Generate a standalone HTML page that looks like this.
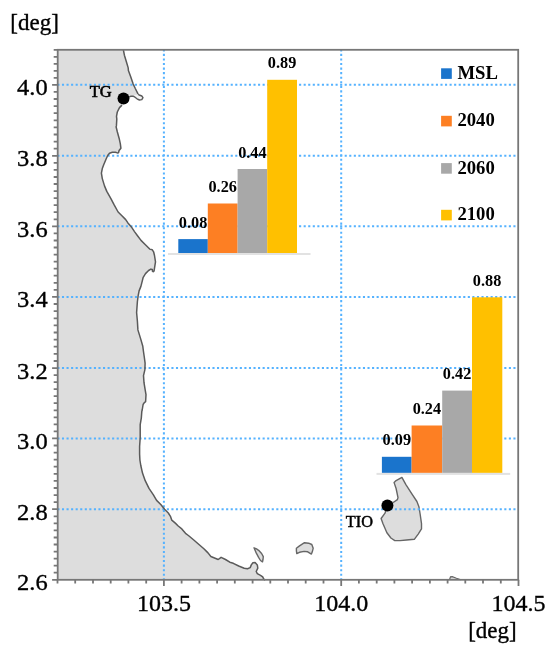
<!DOCTYPE html><html><head><meta charset="utf-8"><style>html,body{margin:0;padding:0;background:#fff;width:550px;height:652px;overflow:hidden}svg{display:block}text{font-family:"Liberation Serif",serif}.r{stroke:#000;stroke-width:0.35px}</style></head><body>
<svg width="550" height="652" viewBox="0 0 550 652">
<polygon points="57.7,49.8 123.3,49.5 124.4,55.2 126.3,61.5 128.2,67.9 128.4,70.5 130.7,76.8 133.0,83.6 135.3,88.5 137.6,93.1 138.0,94.3 136.5,95.3 133.0,96.2 131.0,96.2 123.5,98.5 122.0,105.1 119.5,107.6 117.3,112.0 116.5,116.4 116.8,119.1 116.4,125.9 116.1,126.8 117.3,131.8 119.1,138.2 120.3,143.6 120.9,148.2 119.1,150.5 118.5,152.7 117.3,152.9 115.5,152.3 112.3,152.3 109.5,153.2 107.7,155.5 105.9,159.5 103.6,165.0 102.3,168.6 101.4,173.2 102.3,178.6 104.5,185.9 106.8,191.4 110.9,198.6 113.9,204.4 118.1,212.0 121.4,215.3 125.7,219.6 127.9,222.9 131.2,226.7 134.5,231.6 137.7,236.0 141.0,240.4 145.4,244.7 149.7,249.1 152.3,249.8 153.6,251.8 154.5,255.5 155.5,261.8 154.5,268.2 154.1,270.9 153.2,271.8 152.3,270.9 152.3,269.5 150.9,269.1 148.6,270.5 145.5,273.6 143.2,277.3 142.3,280.9 140.9,286.4 139.1,290.9 138.2,295.5 137.4,301.5 136.6,312.5 137.4,321.2 137.9,329.9 140.6,338.6 142.8,346.3 143.4,351.0 144.2,356.5 145.1,363.1 144.9,369.6 143.5,375.6 144.0,382.7 145.1,389.3 146.0,394.7 145.6,401.8 144.5,402.4 143.1,404.5 142.2,410.0 141.8,411.5 141.3,418.1 140.2,424.6 140.2,437.7 139.6,446.5 139.6,454.1 139.9,460.0 140.8,465.5 142.5,473.1 145.2,480.7 149.0,488.4 153.4,494.9 156.6,500.4 161.0,504.7 164.6,509.3 168.3,513.0 170.6,516.7 171.8,520.2 175.3,523.1 178.2,526.0 181.8,528.9 185.5,533.3 188.4,535.5 193.5,539.8 197.8,543.5 203.6,548.5 208.0,552.9 210.9,556.5 214.5,558.0 218.2,559.5 221.1,557.3 225.5,559.5 229.8,562.2 233.3,563.3 238.7,566.0 244.2,568.2 247.5,568.7 250.2,567.6 251.3,564.9 252.9,562.7 255.1,562.5 257.3,564.9 257.8,568.2 256.2,571.5 257.3,573.6 260.5,575.3 262.7,576.9 263.8,579.1 265.2,580.2 57.7,579.8" fill="#dddddd"/>
<polygon points="254.0,547.8 256.5,548.9 258.6,550.3 261.6,553.5 263.3,556.7 263.0,559.5 262.5,561.9 260.5,560.5 258.6,557.3 256.2,552.9" fill="#dddddd" stroke="#666" stroke-width="1.4" stroke-linejoin="round"/>
<polygon points="296.4,548.2 299.5,545.9 304.5,542.7 308.6,543.2 311.8,544.5 313.2,548.2 312.3,551.8 311.4,554.1 307.7,551.8 304.1,551.4 299.5,552.3 296.8,553.6 296.4,550.9" fill="#dddddd" stroke="#666" stroke-width="1.4" stroke-linejoin="round"/>
<polygon points="401.9,477.4 405.9,484.6 411.7,493.7 416.9,501.5 418.9,506.7 420.2,514.5 421.5,523.7 421.5,528.9 418.2,534.1 414.3,539.3 406.5,540.0 400.0,540.6 394.8,540.6 390.9,538.0 386.9,532.8 383.0,523.7 381.1,518.5 385.0,513.2 387.3,505.7 392.8,502.8 397.4,499.6 398.0,497.6 396.1,488.5 394.1,482.6 396.1,480.6" fill="#dddddd" stroke="#666" stroke-width="1.4" stroke-linejoin="round"/>
<polyline points="449.5,579.8 450.5,576.8 452.3,576.6 456.4,578.2 460.9,579.8" fill="#dddddd" stroke="#666" stroke-width="1.2"/>
<line x1="57.4" y1="84.8" x2="518.2" y2="84.8" stroke="#55b2ff" stroke-width="2" stroke-dasharray="2.1 2.46"/>
<line x1="57.4" y1="155.8" x2="518.2" y2="155.8" stroke="#55b2ff" stroke-width="2" stroke-dasharray="2.1 2.46"/>
<line x1="57.4" y1="226.3" x2="518.2" y2="226.3" stroke="#55b2ff" stroke-width="2" stroke-dasharray="2.1 2.46"/>
<line x1="57.4" y1="296.9" x2="518.2" y2="296.9" stroke="#55b2ff" stroke-width="2" stroke-dasharray="2.1 2.46"/>
<line x1="57.4" y1="368.1" x2="518.2" y2="368.1" stroke="#55b2ff" stroke-width="2" stroke-dasharray="2.1 2.46"/>
<line x1="57.4" y1="438.4" x2="518.2" y2="438.4" stroke="#55b2ff" stroke-width="2" stroke-dasharray="2.1 2.46"/>
<line x1="57.4" y1="509.2" x2="518.2" y2="509.2" stroke="#55b2ff" stroke-width="2" stroke-dasharray="2.1 2.46"/>
<line x1="163.9" y1="49.3" x2="163.9" y2="579.8" stroke="#55b2ff" stroke-width="2" stroke-dasharray="2.1 2.46"/>
<line x1="341.2" y1="49.3" x2="341.2" y2="579.8" stroke="#55b2ff" stroke-width="2" stroke-dasharray="2.1 2.46"/>
<polyline points="123.3,49.5 124.4,55.2 126.3,61.5 128.2,67.9 128.4,70.5 130.7,76.8 133.0,83.6 135.3,88.5 137.6,93.1 138.0,94.3" fill="none" stroke="#5a5a5a" stroke-width="1.5" stroke-linejoin="round"/>
<polyline points="138.0,94.3 139.2,95.0 141.8,96.0 143.0,97.6 141.8,99.6 139.4,100.0 137.0,98.8 135.0,97.2 133.0,96.2 131.0,96.2 129.0,97.2" fill="#f4f4f4" stroke="#5a5a5a" stroke-width="1.4" stroke-linejoin="round"/>
<polyline points="122.0,105.1 119.5,107.6 117.3,112.0 116.5,116.4 116.8,119.1 116.4,125.9 116.1,126.8 117.3,131.8 119.1,138.2 120.3,143.6 120.9,148.2 119.1,150.5 118.5,152.7 117.3,152.9 115.5,152.3 112.3,152.3 109.5,153.2 107.7,155.5 105.9,159.5 103.6,165.0 102.3,168.6 101.4,173.2 102.3,178.6 104.5,185.9 106.8,191.4 110.9,198.6 113.9,204.4 118.1,212.0 121.4,215.3 125.7,219.6 127.9,222.9 131.2,226.7 134.5,231.6 137.7,236.0 141.0,240.4 145.4,244.7 149.7,249.1 152.3,249.8 153.6,251.8 154.5,255.5 155.5,261.8 154.5,268.2 154.1,270.9 153.2,271.8 152.3,270.9 152.3,269.5 150.9,269.1 148.6,270.5 145.5,273.6 143.2,277.3 142.3,280.9 140.9,286.4 139.1,290.9 138.2,295.5 137.4,301.5 136.6,312.5 137.4,321.2 137.9,329.9 140.6,338.6 142.8,346.3 143.4,351.0 144.2,356.5 145.1,363.1 144.9,369.6 143.5,375.6 144.0,382.7 145.1,389.3 146.0,394.7 145.6,401.8 144.5,402.4 143.1,404.5 142.2,410.0 141.8,411.5 141.3,418.1 140.2,424.6 140.2,437.7 139.6,446.5 139.6,454.1 139.9,460.0 140.8,465.5 142.5,473.1 145.2,480.7 149.0,488.4 153.4,494.9 156.6,500.4 161.0,504.7 164.6,509.3 168.3,513.0 170.6,516.7 171.8,520.2 175.3,523.1 178.2,526.0 181.8,528.9 185.5,533.3 188.4,535.5 193.5,539.8 197.8,543.5 203.6,548.5 208.0,552.9 210.9,556.5 214.5,558.0 218.2,559.5 221.1,557.3 225.5,559.5 229.8,562.2 233.3,563.3 238.7,566.0 244.2,568.2 247.5,568.7 250.2,567.6 251.3,564.9 252.9,562.7 255.1,562.5 257.3,564.9 257.8,568.2 256.2,571.5 257.3,573.6 260.5,575.3 262.7,576.9 263.8,579.1 265.2,580.2" fill="none" stroke="#5a5a5a" stroke-width="1.5" stroke-linejoin="round"/>
<rect x="57.7" y="49.8" width="460.5" height="530.0" fill="none" stroke="#777" stroke-width="1.8"/>
<path d="M52.1 579.8H57.7M53.7 572.7H57.7M53.7 565.7H57.7M53.7 558.6H57.7M53.7 551.6H57.7M53.7 544.5H57.7M53.7 537.5H57.7M53.7 530.4H57.7M53.7 523.4H57.7M53.7 516.3H57.7M52.1 509.2H57.7M53.7 502.2H57.7M53.7 495.1H57.7M53.7 488.0H57.7M53.7 480.9H57.7M53.7 473.8H57.7M53.7 466.7H57.7M53.7 459.7H57.7M53.7 452.6H57.7M53.7 445.5H57.7M52.1 438.4H57.7M53.7 431.4H57.7M53.7 424.3H57.7M53.7 417.3H57.7M53.7 410.3H57.7M53.7 403.2H57.7M53.7 396.2H57.7M53.7 389.2H57.7M53.7 382.2H57.7M53.7 375.1H57.7M52.1 368.1H57.7M53.7 361.0H57.7M53.7 353.9H57.7M53.7 346.7H57.7M53.7 339.6H57.7M53.7 332.5H57.7M53.7 325.4H57.7M53.7 318.3H57.7M53.7 311.1H57.7M53.7 304.0H57.7M52.1 296.9H57.7M53.7 289.8H57.7M53.7 282.8H57.7M53.7 275.7H57.7M53.7 268.7H57.7M53.7 261.6H57.7M53.7 254.6H57.7M53.7 247.5H57.7M53.7 240.5H57.7M53.7 233.4H57.7M52.1 226.3H57.7M53.7 219.3H57.7M53.7 212.2H57.7M53.7 205.2H57.7M53.7 198.1H57.7M53.7 191.1H57.7M53.7 184.0H57.7M53.7 177.0H57.7M53.7 169.9H57.7M53.7 162.9H57.7M52.1 155.8H57.7M53.7 148.7H57.7M53.7 141.6H57.7M53.7 134.5H57.7M53.7 127.4H57.7M53.7 120.3H57.7M53.7 113.2H57.7M53.7 106.1H57.7M53.7 99.0H57.7M53.7 91.9H57.7M52.1 84.8H57.7M53.7 77.9H57.7M53.7 70.9H57.7M53.7 63.9H57.7M53.7 56.9H57.7M53.7 49.9H57.7M57.5 579.8V583.6M75.2 579.8V583.6M93.0 579.8V583.6M110.7 579.8V583.6M128.4 579.8V583.6M146.2 579.8V583.6M163.9 579.8V586.0M181.6 579.8V583.6M199.4 579.8V583.6M217.1 579.8V583.6M234.8 579.8V583.6M252.6 579.8V583.6M270.3 579.8V583.6M288.0 579.8V583.6M305.7 579.8V583.6M323.5 579.8V583.6M341.2 579.8V586.0M358.9 579.8V583.6M376.7 579.8V583.6M394.4 579.8V583.6M412.1 579.8V583.6M429.9 579.8V583.6M447.6 579.8V583.6M465.3 579.8V583.6M483.0 579.8V583.6M500.8 579.8V583.6M518.5 579.8V586.0" fill="none" stroke="#777" stroke-width="1.8"/>
<text transform="translate(47.7 95.2) scale(1.02 1.0)" font-size="24" text-anchor="end" class="r">4.0</text>
<text transform="translate(47.7 166.2) scale(1.02 1.0)" font-size="24" text-anchor="end" class="r">3.8</text>
<text transform="translate(47.7 236.8) scale(1.02 1.0)" font-size="24" text-anchor="end" class="r">3.6</text>
<text transform="translate(47.7 307.3) scale(1.02 1.0)" font-size="24" text-anchor="end" class="r">3.4</text>
<text transform="translate(47.7 378.5) scale(1.02 1.0)" font-size="24" text-anchor="end" class="r">3.2</text>
<text transform="translate(47.7 448.8) scale(1.02 1.0)" font-size="24" text-anchor="end" class="r">3.0</text>
<text transform="translate(47.7 519.6) scale(1.02 1.0)" font-size="24" text-anchor="end" class="r">2.8</text>
<text transform="translate(47.7 590.2) scale(1.02 1.0)" font-size="24" text-anchor="end" class="r">2.6</text>
<text transform="translate(163.9 610.8) scale(1.0 1.0)" font-size="24" text-anchor="middle" class="r">103.5</text>
<text transform="translate(341.2 610.8) scale(1.0 1.0)" font-size="24" text-anchor="middle" class="r">104.0</text>
<text transform="translate(518.5 610.8) scale(1.0 1.0)" font-size="24" text-anchor="middle" class="r">104.5</text>
<text transform="translate(10.3 29.6) scale(1.0 1.03)" font-size="23" class="r">[deg]</text>
<text transform="translate(468.2 637.8) scale(1.0 1.03)" font-size="23" class="r">[deg]</text>
<rect x="441.1" y="68.3" width="10.7" height="10.6" fill="#1a74cc"/>
<text x="457.4" y="78.9" font-size="18.7" font-weight="bold">MSL</text>
<rect x="441.1" y="115.8" width="10.7" height="10.6" fill="#fd7f23"/>
<text x="457.4" y="126.4" font-size="18.7" font-weight="bold">2040</text>
<rect x="441.1" y="163.1" width="10.7" height="10.6" fill="#a8a8a8"/>
<text x="457.4" y="173.7" font-size="18.7" font-weight="bold">2060</text>
<rect x="441.1" y="209.8" width="10.7" height="10.6" fill="#ffc000"/>
<text x="457.4" y="220.4" font-size="18.7" font-weight="bold">2100</text>
<rect x="178.3" y="239.1" width="29.5" height="13.9" fill="#1a74cc"/>
<text transform="translate(193.1 227.6) scale(0.98 1.0)" font-size="16.6" font-weight="bold" text-anchor="middle">0.08</text>
<rect x="207.8" y="203.5" width="29.8" height="49.5" fill="#fd7f23"/>
<text transform="translate(222.7 192.0) scale(0.98 1.0)" font-size="16.6" font-weight="bold" text-anchor="middle">0.26</text>
<rect x="237.6" y="169.0" width="29.6" height="84.0" fill="#a8a8a8"/>
<text transform="translate(252.4 157.5) scale(0.98 1.0)" font-size="16.6" font-weight="bold" text-anchor="middle">0.44</text>
<rect x="267.2" y="79.8" width="29.8" height="173.2" fill="#ffc000"/>
<text transform="translate(282.1 68.3) scale(0.98 1.0)" font-size="16.6" font-weight="bold" text-anchor="middle">0.89</text>
<rect x="168" y="253.0" width="142.5" height="2" fill="#e2e2e2"/>
<rect x="381.9" y="456.8" width="29.7" height="16.1" fill="#1a74cc"/>
<text transform="translate(396.8 445.3) scale(0.98 1.0)" font-size="16.6" font-weight="bold" text-anchor="middle">0.09</text>
<rect x="411.6" y="425.5" width="30.6" height="47.4" fill="#fd7f23"/>
<text transform="translate(426.9 414.0) scale(0.98 1.0)" font-size="16.6" font-weight="bold" text-anchor="middle">0.24</text>
<rect x="442.2" y="390.6" width="29.8" height="82.3" fill="#a8a8a8"/>
<text transform="translate(457.1 379.1) scale(0.98 1.0)" font-size="16.6" font-weight="bold" text-anchor="middle">0.42</text>
<rect x="472.0" y="297.3" width="30.3" height="175.6" fill="#ffc000"/>
<text transform="translate(487.1 285.8) scale(0.98 1.0)" font-size="16.6" font-weight="bold" text-anchor="middle">0.88</text>
<rect x="376.5" y="472.9" width="133.7" height="2" fill="#e2e2e2"/>
<circle cx="123.5" cy="98.5" r="6" fill="#000"/>
<circle cx="387.4" cy="505.5" r="6" fill="#000"/>
<text x="89.7" y="97.1" font-size="16.5" stroke="#000" stroke-width="0.6">TG</text>
<text x="345.8" y="527.3" font-size="16.3" stroke="#000" stroke-width="0.5">TIO</text>
</svg></body></html>
